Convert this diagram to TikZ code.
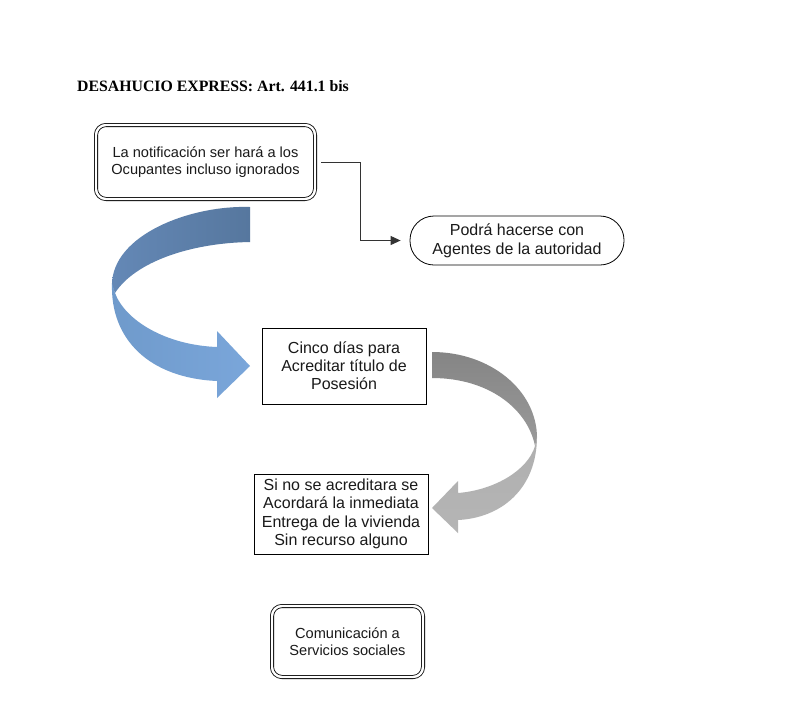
\documentclass[tikz,border=0pt]{standalone}
\usepackage{fontspec}
\setmainfont{Liberation Sans}
\newfontfamily\titlefont{Liberation Serif}
\usetikzlibrary{arrows.meta}
\definecolor{txt}{HTML}{1A1A1A}
\definecolor{bdA}{HTML}{6488B6}
\definecolor{bdB}{HTML}{56779E}
\definecolor{blA}{HTML}{6F9ACB}
\definecolor{blB}{HTML}{7AA6DA}
\definecolor{gdA}{HTML}{858585}
\definecolor{gdB}{HTML}{9A9A9A}
\definecolor{glA}{HTML}{AFAFAF}
\definecolor{glB}{HTML}{B5B5B5}
\tikzset{
  boxtext/.style={align=center, text=txt, inner sep=0pt},
  dblbox/.style={boxtext, draw=black, double=white, double distance=2.4pt, line width=0.8pt, rounded corners=10pt},
  plainbox/.style={boxtext, draw=black, line width=0.8pt},
  stadium/.style={boxtext, draw=black, line width=0.8pt, rounded corners=24pt},
  conn/.style={draw=black!80, line width=0.9pt, -{Triangle[length=10pt,width=9pt]}},
}
\begin{document}
\begin{tikzpicture}[x=1pt,y=-1pt]
\useasboundingbox (0,0) rectangle (794,713);
\fill[white] (0,0) rectangle (794,713);

% title
\node[anchor=base west, inner sep=0pt, text=black, font=\titlefont\bfseries\fontsize{15.8}{18}\selectfont] (title) at (77,91)
  {DESAHUCIO EXPRESS: Art. 441.1 bis};

% blue curved arrow
\shade[left color=bdA, right color=bdB, draw=none]
  (250,207) .. controls (190,205) and (112,235) .. (112,285)
  -- (115,293) .. controls (135,262) and (190,243) .. (250,242) -- cycle;
\shade[left color=blA, right color=blB, draw=none]
  (112,283) .. controls (110,340) and (150,378) .. (217,381)
  -- (217,398) -- (250,366) -- (217,331) -- (217,347)
  .. controls (165,345) and (125,320) .. (115,293) -- cycle;

% gray curved arrow
\shade[top color=gdA, bottom color=gdB, draw=none]
  (432,352) .. controls (490,352) and (537,390) .. (537,438)
  -- (535,446) .. controls (528,410) and (490,378) .. (432,378) -- cycle;
\shade[top color=glA, bottom color=glB, draw=none]
  (537,436) .. controls (537,490) and (500,518) .. (458,520)
  -- (458,533) -- (432,508) -- (458,481) -- (458,493)
  .. controls (495,490) and (528,470) .. (535,446) -- cycle;

% nodes
\node[dblbox, minimum width=219pt, minimum height=74pt, font=\fontsize{14.6}{17}\selectfont] (n1) at (205.5,162)
  {La notificación ser hará a los\\Ocupantes incluso ignorados};
\node[stadium, minimum width=214pt, minimum height=49pt, font=\fontsize{16}{19}\selectfont] (n2) at (517,240.5)
  {Podrá hacerse con\\Agentes de la autoridad};
\node[plainbox, minimum width=164pt, minimum height=76pt, font=\fontsize{16}{18}\selectfont] (n3) at (344,366)
  {Cinco días para\\Acreditar título de\\Posesión};
\node[plainbox, minimum width=174pt, minimum height=80pt, font=\fontsize{16}{18.3}\selectfont] (n4) at (341,514)
  {Si no se acreditara se\\Acordará la inmediata\\Entrega de la vivienda\\Sin recurso alguno};
\node[dblbox, minimum width=151pt, minimum height=71pt, font=\fontsize{14.6}{17}\selectfont] (n5) at (347.5,641.5)
  {Comunicación a\\Servicios sociales};

% connector
\draw[conn, shorten <=6pt, shorten >=9pt] (n1.east) -- ++(45.5,0) |- (n2.west);
\end{tikzpicture}
\end{document}
